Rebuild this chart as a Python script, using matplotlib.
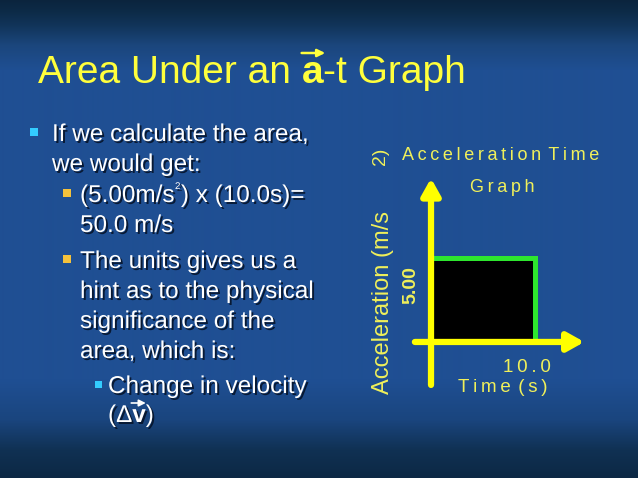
import numpy as np
import matplotlib
matplotlib.use("Agg")
import matplotlib.pyplot as plt
import matplotlib.patheffects as pe
from matplotlib.patches import Rectangle

plt.rcParams['font.family'] = ['Liberation Sans', 'DejaVu Sans']

# values of the a-t graph
ACCEL = 5.00   # m/s^2
TIME = 10.0    # s

title_parts = ["Area Under an ", "a", "-t Graph"]

# (level, text, baseline y in px, bullet mark)
bullet_lines = [
    (1, "If we calculate the area,", 141, True),
    (1, "we would get:", 171, False),
    (2, f"{ACCEL * TIME:.1f} m/s", 232, False),
    (2, "The units gives us a", 268, True),
    (2, "hint as to the physical", 298, False),
    (2, "significance of the", 328, False),
    (2, "area, which is:", 358, False),
    (3, "Change in velocity", 393, True),
]
calc_parts = [f"({ACCEL:.2f}m/s", "2", f") x ({TIME:.1f}s)="]
delta_parts = ["(Δ", "v", ")"]

TS = "\u2009"  # thin space for the spaced-out graph lettering
graph_title = [TS.join("Acceleration") + TS * 2 + TS.join("Time"), TS.join("Graph")]
y_label = "Acceleration (m/s"
x_label = TS.join("Time") + TS + TS + TS.join("(s)")
x_tick = TS.join(f"{TIME:.1f}")

YELLOW = '#ffff00'
TITLE_YELLOW = '#ffff3c'
GTEXT = '#f0f05a'
GREEN = '#2ee62e'
CYAN = '#33ccff'
GOLD = '#f5c23c'

fig = plt.figure(figsize=(6.38, 4.78), dpi=100)
bg = fig.add_axes([0, 0, 1, 1])
bg.set_xlim(0, 638)
bg.set_ylim(478, 0)
bg.axis('off')

# background gradient
stops_y = [0, 12, 25, 45, 70, 380, 420, 450, 478]
stops_c = ['#0b243d', '#0d2b48', '#113459', '#1b467c', '#1f4f93',
           '#1f4f93', '#1a457e', '#103153', '#0c2844']
rgb = np.array([matplotlib.colors.to_rgb(c) for c in stops_c])
yy = np.arange(478) + 0.5
grad = np.stack([np.interp(yy, stops_y, rgb[:, k]) for k in range(3)], axis=-1)
bg.imshow(grad[:, None, :], extent=[0, 638, 478, 0], aspect='auto', interpolation='bilinear')

renderer = fig.canvas.get_renderer()


def advance(s, **kw):
    t = bg.text(0, 0, s + '|', **kw)
    w1 = t.get_window_extent(renderer).width
    t.remove()
    t = bg.text(0, 0, '|', **kw)
    w2 = t.get_window_extent(renderer).width
    t.remove()
    return w1 - w2


shadow = [pe.withSimplePatchShadow(offset=(1.4, -1.4), shadow_rgbFace='#06142a', alpha=0.9)]

# title
x = 38
title_pos = []
for i, part in enumerate(title_parts):
    kw = dict(fontsize=28, color=TITLE_YELLOW, fontweight='bold' if i == 1 else 'normal')
    bg.text(x, 83, part, va='baseline', ha='left', **kw)
    w = advance(part, **kw)
    title_pos.append((x, w))
    x += w
ax_a, aw = title_pos[1]
bg.annotate('', xy=(ax_a + aw + 2, 53), xytext=(ax_a, 53),
            arrowprops=dict(arrowstyle='-|>,head_length=0.45,head_width=0.22', mutation_scale=10,
                            lw=1.8, color=TITLE_YELLOW, shrinkA=0, shrinkB=0))

# bullets
text_x = {1: 52, 2: 80, 3: 108}
mark_x = {1: 34, 2: 67, 3: 98}
mark_s = {1: 8.5, 2: 8, 3: 7}
mark_c = {1: CYAN, 2: GOLD, 3: CYAN}
BODY = 17.5


def mark(lvl, yb):
    h = mark_s[lvl]
    bg.add_patch(Rectangle((mark_x[lvl] - h / 2, yb - 9 - h / 2), h, h, color=mark_c[lvl], lw=0))


for lvl, s, yb, has_mark in bullet_lines:
    bg.text(text_x[lvl], yb, s, fontsize=BODY, color='white', va='baseline', path_effects=shadow)
    if has_mark:
        mark(lvl, yb)

# (5.00m/s^2) x (10.0s)=  with a tiny raised 2
x = text_x[2]
for i, part in enumerate(calc_parts):
    if i == 1:
        kw = dict(fontsize=7, color='white')
        bg.text(x + 0.5, 189, part, va='baseline', path_effects=shadow, **kw)
        x += advance(part, **kw) + 1
    else:
        kw = dict(fontsize=BODY, color='white')
        bg.text(x, 202, part, va='baseline', path_effects=shadow, **kw)
        x += advance(part, **kw)
mark(2, 202)

x = text_x[3]
vpos = None
for i, part in enumerate(delta_parts):
    kw = dict(fontsize=BODY, color='white', fontweight='bold' if i == 1 else 'normal')
    bg.text(x, 422, part, va='baseline', path_effects=shadow, **kw)
    w = advance(part, **kw)
    if i == 1:
        vpos = (x, w)
    x += w
bg.annotate('', xy=(vpos[0] + vpos[1], 403), xytext=(vpos[0] - 1, 403),
            arrowprops=dict(arrowstyle='-|>,head_length=0.5,head_width=0.25', mutation_scale=8,
                            lw=1.2, color='white', shrinkA=0, shrinkB=0))

# a-t graph
gx = fig.add_axes([410 / 638, (478 - 390) / 478, 185 / 638, 220 / 478])
gx.set_xlim(-2.02, 15.77)
gx.set_ylim(-2.86, 10.24)
gx.axis('off')
gx.patch.set_alpha(0)
gx.bar(0, ACCEL, width=TIME, align='edge', color='black', zorder=2)
gx.plot([0, TIME, TIME], [ACCEL, ACCEL, 0], color=GREEN, lw=3.6, solid_joinstyle='miter', zorder=3)
arrow = dict(arrowstyle='-|>,head_length=0.5,head_width=0.28', mutation_scale=20,
             lw=4.5, color=YELLOW, shrinkA=0, shrinkB=0)
gx.annotate('', xy=(0, 9.75), xytext=(0, -2.56), arrowprops=arrow, zorder=4)
gx.annotate('', xy=(14.75, 0), xytext=(-1.55, 0), arrowprops=arrow, zorder=4)

bg.text(501, 160, graph_title[0], fontsize=13, color=GTEXT, ha='center', va='baseline')
bg.text(502, 192, graph_title[1], fontsize=13, color=GTEXT, ha='center', va='baseline')
bg.text(527, 372, x_tick, fontsize=13.5, color=GTEXT, ha='center', va='baseline')
bg.text(503, 392, x_label, fontsize=13.5, color=GTEXT, ha='center', va='baseline')
bg.text(383, 303, y_label, fontsize=17, color=GTEXT, rotation=90, ha='center', va='center')
bg.text(380, 156, "2)", fontsize=14, color=GTEXT, rotation=90, ha='center', va='center')
bg.text(411, 285, f"{ACCEL:.2f}", fontsize=14, fontweight='bold', color=GTEXT,
        rotation=90, ha='center', va='center')

fig.savefig('out.png', dpi=100)
